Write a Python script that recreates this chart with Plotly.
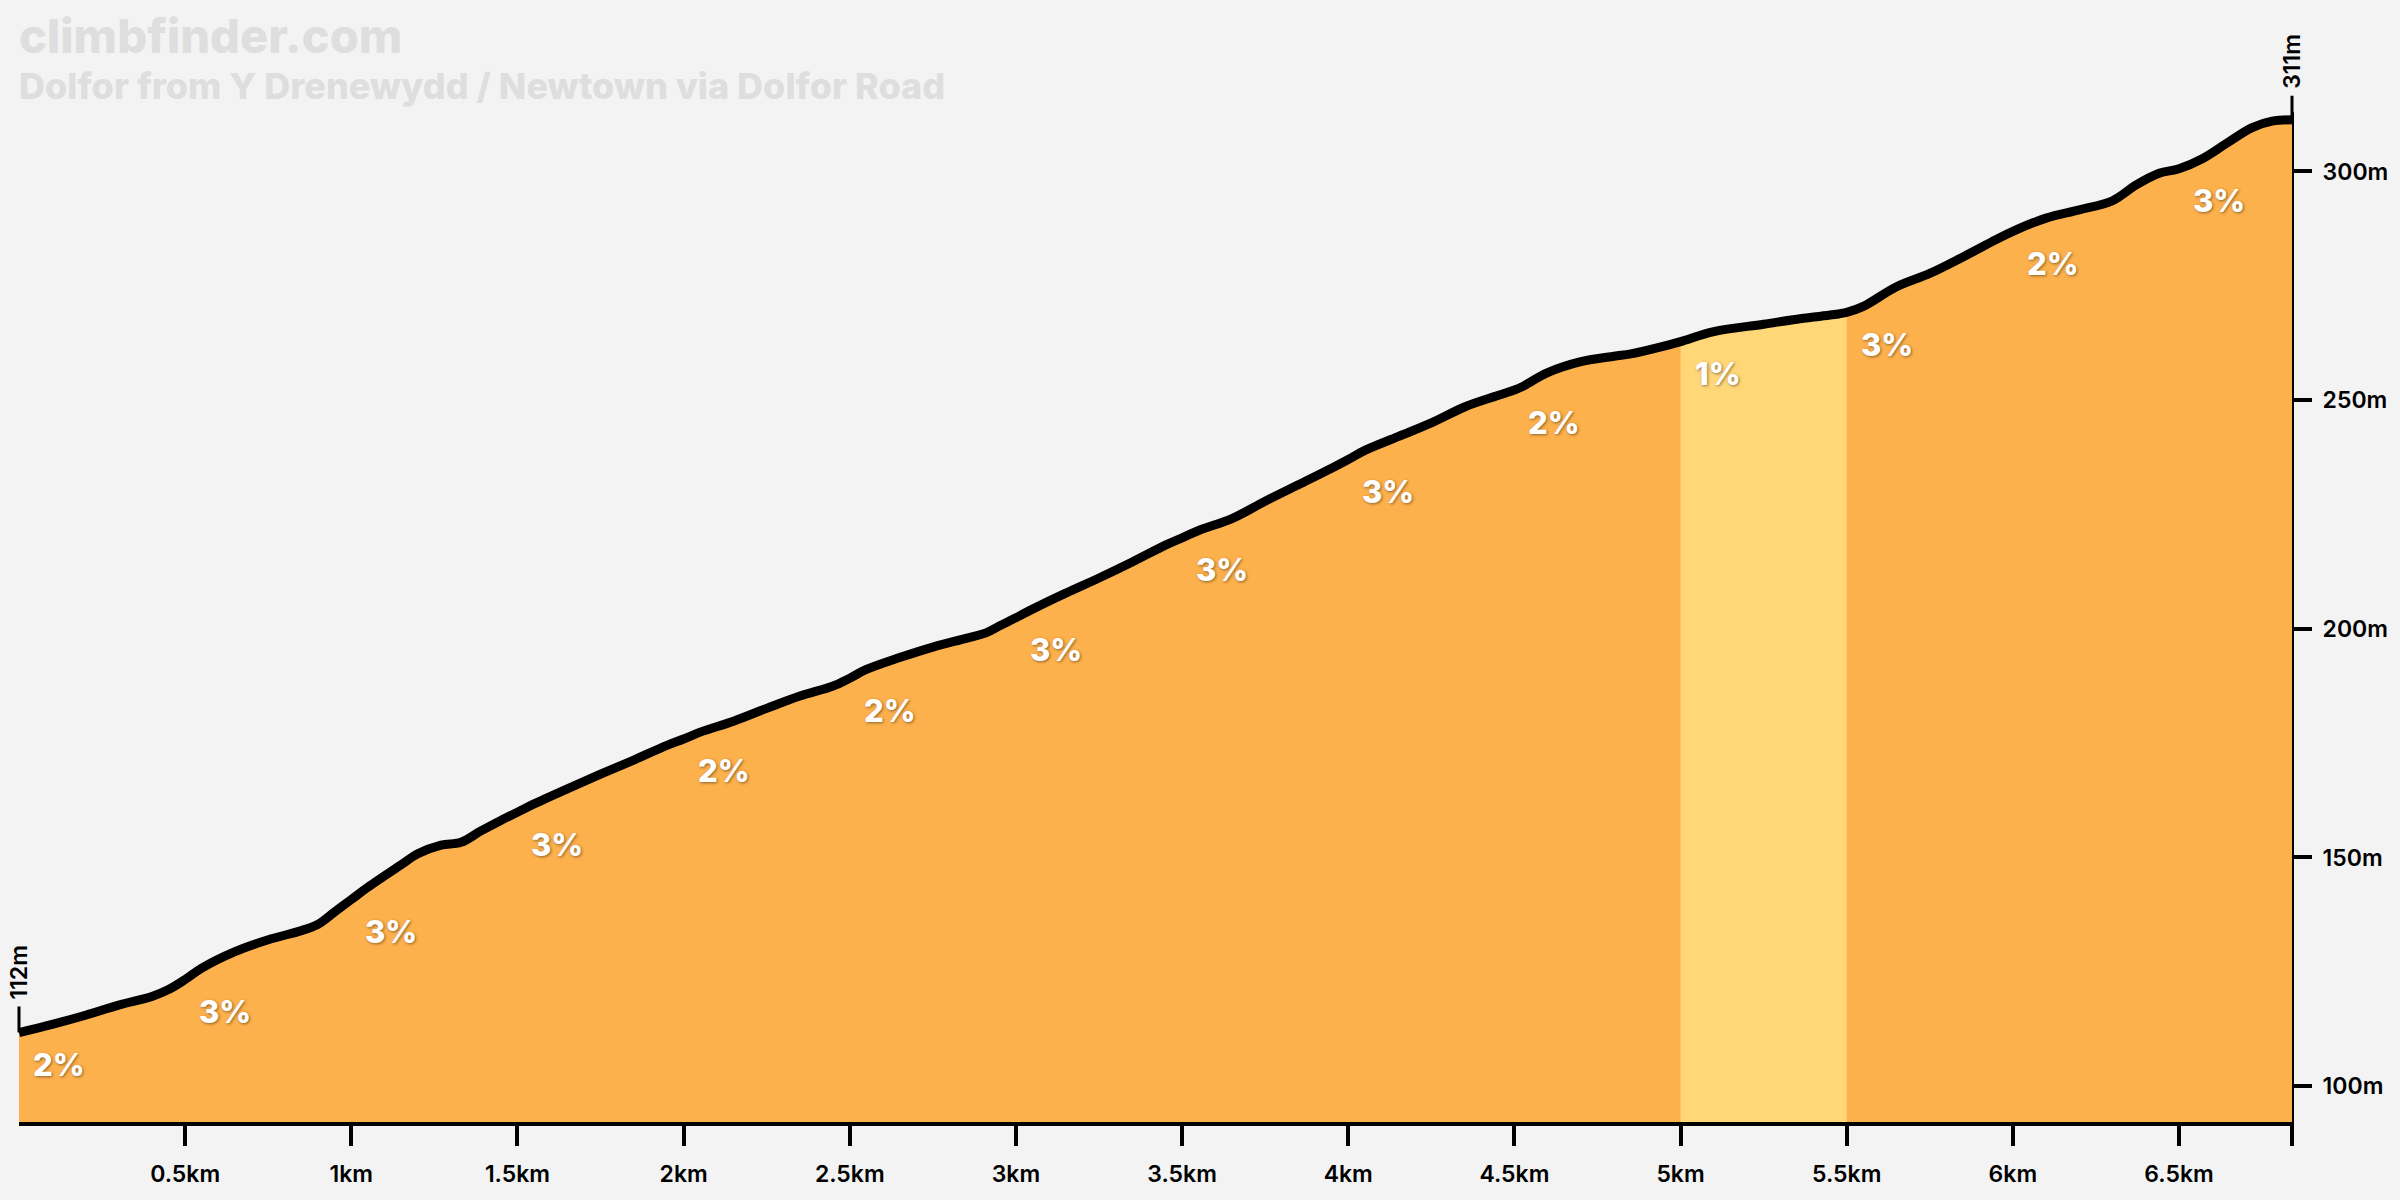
import plotly.graph_objects as go

# ---------------- data ----------------
site_title = "climbfinder.com"
climb_name = "Dolfor from Y Drenewydd / Newtown via Dolfor Road"

dist_km = [0, 0.1, 0.2, 0.3, 0.4, 0.45, 0.5, 0.55, 0.65, 0.75, 0.85, 0.9, 0.95, 1.0,
           1.05, 1.15, 1.2, 1.27, 1.33, 1.39, 1.45, 1.5, 1.55, 1.65, 1.75, 1.85, 1.95, 2.0,
           2.05, 2.15, 2.25, 2.35, 2.45, 2.5, 2.55, 2.65, 2.75, 2.85, 2.91, 2.95, 3.0,
           3.05, 3.15, 3.25, 3.35, 3.45, 3.5, 3.55, 3.65, 3.75, 3.85, 3.95, 4.0,
           4.05, 4.15, 4.25, 4.35, 4.45, 4.5, 4.52, 4.6, 4.7, 4.8, 4.85, 4.95, 5.0,
           5.1, 5.25, 5.35, 5.45, 5.5, 5.55, 5.65, 5.75, 5.85, 5.95, 6.0,
           6.1, 6.2, 6.3, 6.37, 6.44, 6.5, 6.57, 6.64, 6.72, 6.78, 6.84]
elev_m = [111.7, 113.5, 115.5, 117.7, 119.6, 121.1, 123.3, 125.8, 129.4, 132.0, 134.0, 135.4, 138.1, 140.8,
          143.5, 148.4, 150.8, 152.7, 153.3, 155.8, 158.1, 159.9, 161.7, 165.0, 168.2, 171.3, 174.5, 175.9,
          177.4, 179.8, 182.6, 185.3, 187.5, 189.2, 191.1, 193.7, 196.0, 197.9, 199.1, 200.6, 202.4,
          204.3, 207.8, 211.1, 214.6, 218.3, 219.9, 221.5, 224.1, 227.9, 231.5, 235.1, 237.0,
          239.0, 242.0, 245.0, 248.5, 251.0, 252.2, 252.8, 256.0, 258.4, 259.6, 260.1, 261.8, 262.8,
          265.0, 266.6, 267.7, 268.6, 269.2, 270.5, 274.8, 277.7, 281.3, 285.1, 286.9,
          289.8, 291.6, 293.6, 297.0, 299.6, 300.6, 302.8, 306.0, 309.6, 311.0, 311.3]

seg_start_km = [0, 0.5, 1.0, 1.5, 2.0, 2.5, 3.0, 3.5, 4.0, 4.5, 5.0, 5.5, 6.0, 6.5]
seg_grade_pct = [2, 3, 3, 3, 2, 2, 3, 3, 3, 2, 1, 3, 2, 3]

x_tick_vals = [0.5, 1.0, 1.5, 2.0, 2.5, 3.0, 3.5, 4.0, 4.5, 5.0, 5.5, 6.0, 6.5]
x_tick_text = ["0.5km", "1km", "1.5km", "2km", "2.5km", "3km", "3.5km", "4km",
               "4.5km", "5km", "5.5km", "6km", "6.5km"]
y_tick_vals = [100, 150, 200, 250, 300]
y_tick_text = ["100m", "150m", "200m", "250m", "300m"]

# ---------------- style ----------------
BG = "#f3f3f3"
ORANGE = "#fdb14c"
YELLOW = "#ffd777"
FONT = "Inter"
SMOOTH = 1.0


def grade_color(g):
    return YELLOW if g < 2 else ORANGE


total_km = dist_km[-1]
fig = go.Figure()

# base fill under the whole profile (hides seams between equal-coloured segments)
fig.add_trace(go.Scatter(
    x=dist_km, y=elev_m, mode="lines", fill="tozeroy", fillcolor=ORANGE,
    line=dict(width=0, shape="spline", smoothing=SMOOTH, color=ORANGE),
    hoverinfo="skip", showlegend=False))

# coloured gradient segments
for i, s in enumerate(seg_start_km):
    col = grade_color(seg_grade_pct[i])
    if col == ORANGE:
        continue
    e = seg_start_km[i + 1] if i + 1 < len(seg_start_km) else total_km
    xs = [d for d in dist_km if s - 1e-9 <= d <= e + 1e-9]
    ys = [elev_m[dist_km.index(d)] for d in xs]
    fig.add_trace(go.Scatter(
        x=xs, y=ys, mode="lines", fill="tozeroy", fillcolor=col,
        line=dict(width=0, shape="spline", smoothing=SMOOTH, color=col),
        hoverinfo="skip", showlegend=False))

# profile line
fig.add_trace(go.Scatter(
    x=dist_km, y=elev_m, mode="lines",
    line=dict(color="#000000", width=9, shape="spline", smoothing=SMOOTH),
    hoverinfo="skip", showlegend=False))

annotations = []
# gradient labels
for i, s in enumerate(seg_start_km):
    y0 = elev_m[dist_km.index(s)]
    annotations.append(dict(
        x=s, y=y0, xref="x", yref="y", text=f"{seg_grade_pct[i]}%", showarrow=False,
        xanchor="left", yanchor="middle", xshift=12, yshift=-32,
        font=dict(family=FONT, size=31, color="white", weight=800,
                  shadow="1px 1px 3px rgba(0,0,0,0.45)")))

# start / end elevation markers
for xv, yv, ay in [(dist_km[0], elev_m[0], -60), (dist_km[-1], elev_m[-1], -58)]:
    annotations.append(dict(
        x=xv, y=yv, xref="x", yref="y", text=f"{round(yv)}m", textangle=-90,
        showarrow=True, arrowhead=0, arrowwidth=3, arrowcolor="#000000",
        ax=0, ay=ay, borderpad=6,
        font=dict(family=FONT, size=23, color="#000000", weight=600)))

# titles
annotations.append(dict(
    x=0, y=1.076, xref="paper", yref="paper", text=site_title, showarrow=False,
    xanchor="left", yanchor="middle", xshift=-2,
    font=dict(family=FONT, size=47, color="#dedede", weight=800)))
annotations.append(dict(
    x=0, y=1.026, xref="paper", yref="paper", text=climb_name, showarrow=False,
    xanchor="left", yanchor="middle", xshift=-2,
    font=dict(family=FONT, size=36, color="#dedede", weight=800)))

fig.update_layout(
    width=2400, height=1200,
    paper_bgcolor=BG, plot_bgcolor=BG,
    margin=dict(l=19, r=103, t=112, b=67),
    showlegend=False,
    annotations=annotations,
    xaxis=dict(
        range=[0, total_km], tickvals=x_tick_vals + [total_km], ticktext=x_tick_text + [""],
        showgrid=False, zeroline=False, showline=True, linecolor="#000000", linewidth=4,
        ticks="outside", ticklen=20, tickwidth=4, tickcolor="#000000",
        ticklabelstandoff=8,
        tickfont=dict(family=FONT, size=23, color="#000000", weight=600),
        fixedrange=True),
    yaxis=dict(
        range=[92.15, 313], side="right", tickvals=y_tick_vals, ticktext=y_tick_text,
        showgrid=False, zeroline=False, showline=True, linecolor="#000000", linewidth=2,
        ticks="outside", ticklen=18, tickwidth=4, tickcolor="#000000",
        ticklabelstandoff=6,
        tickfont=dict(family=FONT, size=23, color="#000000", weight=600),
        fixedrange=True),
)

fig.write_html("out.html")
